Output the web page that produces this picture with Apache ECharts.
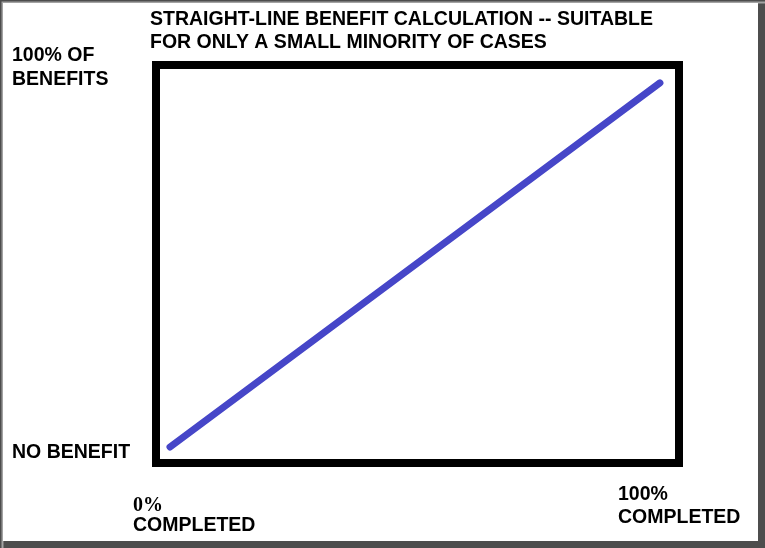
<!DOCTYPE html>
<html>
<head>
<meta charset="utf-8">
<script src="https://cdn.jsdelivr.net/npm/echarts@6/dist/echarts.min.js"></script>
<style>
  html, body { margin: 0; padding: 0; background: #fff; }
  #chart { width: 765px; height: 548px; }
</style>
</head>
<body>
<div id="chart"></div>
<script>
// percent completed vs percent of benefits
var completed = [0, 100]
var benefits = [0, 100]
var titleLines = ['STRAIGHT-LINE BENEFIT CALCULATION -- SUITABLE', 'FOR ONLY A SMALL MINORITY OF CASES']
var yLabels = ['100% OF\nBENEFITS', 'NO BENEFIT']
var xLabels = ['0%', '100%']
var xUnit = 'COMPLETED'

var font = 'Liberation Sans, Arial, sans-serif'
var chart = echarts.init(document.getElementById('chart'))

function txt (x, y, text, extra) {
  return {
    type: 'text', left: x, top: y,
    style: Object.assign({
      text: text, fill: '#000', fontFamily: font, fontWeight: 'bold',
      fontSize: 19.5, lineHeight: 24
    }, extra || {})
  }
}

var option = {
  backgroundColor: '#4d4d4d',
  animation: false,
  grid: {
    left: 156, top: 65, width: 523, height: 398,
    show: true, borderColor: '#000', borderWidth: 8, backgroundColor: 'transparent'
  },
  xAxis: {
    type: 'value', min: -2.86, max: 103.9,
    axisLabel: { show: false }, axisLine: { show: false },
    axisTick: { show: false }, splitLine: { show: false }
  },
  yAxis: {
    type: 'value', min: -4.4, max: 104.9,
    axisLabel: { show: false }, axisLine: { show: false },
    axisTick: { show: false }, splitLine: { show: false }
  },
  series: [{
    type: 'line',
    data: completed.map(function (c, i) { return [c, benefits[i]] }),
    showSymbol: false,
    lineStyle: { color: '#4646c8', width: 7, cap: 'round' }
  }],
  graphic: [
    {
      type: 'rect', left: 0, top: 0, z: -10,
      shape: { x: 0, y: 0, width: 765, height: 548 },
      style: { fill: 'none', stroke: '#a3a3a3', lineWidth: 2 }
    },
    {
      type: 'rect', left: 3, top: 3, z: -10,
      shape: { x: 0, y: 0, width: 755, height: 538 },
      style: { fill: '#fff' }
    },
    txt(150, 8, titleLines[0] + '\n' + titleLines[1], { lineHeight: 23 }),
    txt(12, 44, yLabels[0]),
    txt(12, 441, yLabels[1]),
    txt(133, 494, xLabels[0], { fontFamily: 'Liberation Serif, Times New Roman, serif', fontSize: 20 }),
    txt(133, 514, xUnit),
    txt(618, 483, xLabels[1] + '\n' + xUnit, { lineHeight: 23 })
  ]
}
chart.setOption(option)
</script>
</body>
</html>
